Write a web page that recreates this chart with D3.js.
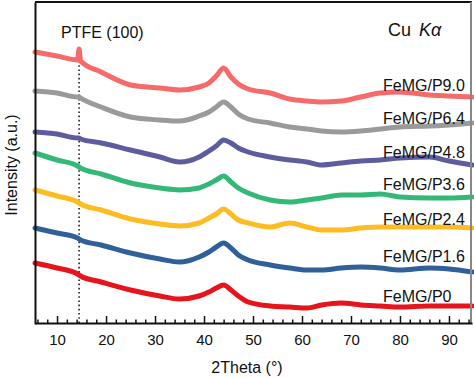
<!DOCTYPE html>
<html><head><meta charset="utf-8">
<script src="https://cdn.jsdelivr.net/npm/d3@7"></script>
<style>
html,body{margin:0;padding:0;background:#fff;}
text{font-family:"Liberation Sans",Arial,sans-serif;fill:#111;}
</style></head>
<body>
<svg id="c" width="474" height="378"></svg>
<script>
// 2Theta sample positions (degrees)
const twoTheta = [5.5,10,14.2,14.5,14.8,19,25,31,35,39,41,42.5,44,45.5,47,49,53.5,57.5,61,64,68,72,76,80,86,90,94.7];
// stacked intensities (a.u., offsets included)
const P90 = [278,274,270,281,269,258,245,242,240,243,247,254,262,253,246,241,237,231,229,228,229,233,237,238,235,234,233];
const P64 = [239,237,233,233,232,223,213,210,209,214,218,223,228,223,216,211,207,203,201,199,198,199,201,203,204,205,207];
const P48 = [198,196,192,192,191,187,180,173,168,173,179,184,190,187,182,178,173,170,168,165,167,169,170,172,173,169,165];
const P36 = [177,170,164,163,162,156,147,142,140,142,146,150,154,148,142,137,130,128,130,132,135,135,136,133,132,132,133];
const P24 = [140,134,128,127,126,120,111,106,104,107,112,116,121,116,110,107,103,107,103,100,100,102,103,103,103,103,102];
const P16 = [102,97,92,91,90,85,77,71,68,73,78,83,87,82,75,70,65,62,60,60,62,63,62,60,62,61,58];
const P0  = [67,62,56,55,54,48,40,34,31,34,38,42,45,40,34,28,24,23,22,25,27,25,24,23,24,24,24];
const seriesNames = ["FeMG/P9.0","FeMG/P6.4","FeMG/P4.8","FeMG/P3.6","FeMG/P2.4","FeMG/P1.6","FeMG/P0"];
const seriesValues = [P90,P64,P48,P36,P24,P16,P0];
const xTicks = [10,20,30,40,50,60,70,80,90];
const ptfePos = 14.5;

// styles / layout
const colors = ["#f76a6a","#9a9a9a","#5c5c9e","#34b877","#fdbd22","#2f6099","#e8141c"];
const labelY = [85,118,152,184,219,256,296];

const svg = d3.select("#c");
const L=35,R=472,T=2,B=324;
const x = d3.scaleLinear().domain([5.5,94.7]).range([L,R]);
const y = d3.scaleLinear().domain([6,328]).range([B,T]);

const line = d3.line().x((d,i)=>x(twoTheta[i])).y(d=>y(d)).curve(d3.curveMonotoneX);

// PTFE dotted marker
svg.append("line").attr("x1",x(ptfePos)).attr("x2",x(ptfePos))
  .attr("y1",y(P90[3])+12).attr("y2",B)
  .attr("stroke","#222").attr("stroke-width",1.6).attr("stroke-dasharray","1.6,2.6");

seriesValues.forEach((vals,k)=>{
  svg.append("path").datum(vals).attr("d",line)
    .attr("fill","none").attr("stroke",colors[k]).attr("stroke-width",5)
    .attr("stroke-linejoin","round").attr("stroke-linecap","round");
  svg.append("text").attr("x",383).attr("y",labelY[k]).attr("dominant-baseline","central")
    .attr("font-size",16).text(seriesNames[k]);
});

// frame
svg.append("line").attr("x1",L).attr("x2",R).attr("y1",T).attr("y2",T).attr("stroke","#111").attr("stroke-width",2);
svg.append("line").attr("x1",R-1).attr("x2",R-1).attr("y1",T).attr("y2",B).attr("stroke","#888").attr("stroke-width",2);

// x axis
const minor = d3.range(6,95,2).filter(v=>v%10!==0);
const gMinor = svg.append("g").attr("transform",`translate(0,${B-1})`)
  .call(d3.axisBottom(x).tickValues(minor).tickSize(-3.5).tickSizeOuter(0).tickFormat(""));
gMinor.select(".domain").remove();
gMinor.selectAll("line").attr("stroke","#111").attr("stroke-width",1.5);
const gx = svg.append("g").attr("transform",`translate(0,${B-1})`)
  .call(d3.axisBottom(x).tickValues(xTicks).tickSize(-7).tickSizeOuter(0).tickPadding(11));
gx.select(".domain").attr("stroke","#111").attr("stroke-width",2);
gx.selectAll(".tick line").attr("stroke","#111").attr("stroke-width",1.5);
gx.selectAll("text").attr("font-size",15).attr("font-family","Liberation Sans, Arial, sans-serif").attr("fill","#111");

// y axis (no ticks)
const gy = svg.append("g").attr("transform",`translate(${L},0)`)
  .call(d3.axisLeft(y).tickValues([]).tickSizeOuter(0));
gy.select(".domain").attr("stroke","#111").attr("stroke-width",2);

// titles
svg.append("text").attr("x",247).attr("y",367).attr("text-anchor","middle").attr("dominant-baseline","central")
  .attr("font-size",16).text("2Theta (°)");
svg.append("text").attr("transform","translate(11,165) rotate(-90)").attr("text-anchor","middle")
  .attr("dominant-baseline","central").attr("font-size",16).text("Intensity (a.u.)");
svg.append("text").attr("x",61).attr("y",32).attr("dominant-baseline","central").attr("font-size",16).text("PTFE (100)");
const ck = svg.append("text").attr("x",388).attr("y",30).attr("dominant-baseline","central").attr("font-size",18);
ck.append("tspan").text("Cu ");
ck.append("tspan").attr("dx",3).attr("font-style","italic").text("Kα");
</script>
</body></html>
